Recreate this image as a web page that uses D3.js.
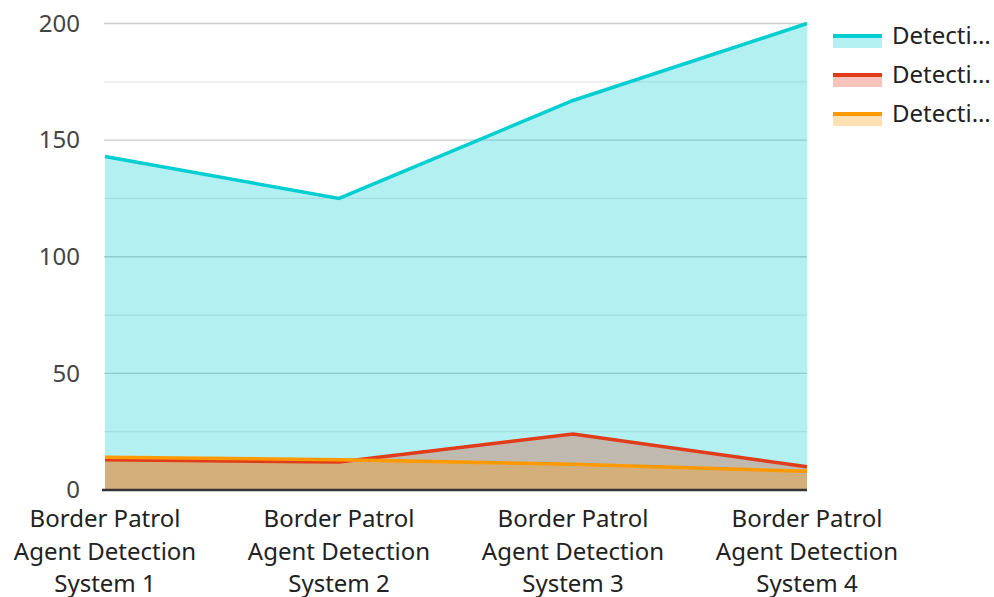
<!DOCTYPE html>
<html>
<head>
<meta charset="utf-8">
<script src="https://cdn.jsdelivr.net/npm/d3@7"></script>
<style>
  body { margin: 0; background: #fff; }
  svg { display: block; font-family: "Noto Sans", "Open Sans", sans-serif; }
</style>
</head>
<body>
<svg id="chart"></svg>
<script>
const width = 994;
const height = 597;

const categories = [
    "Border Patrol Agent Detection System 1",
    "Border Patrol Agent Detection System 2",
    "Border Patrol Agent Detection System 3",
    "Border Patrol Agent Detection System 4",
];
const seriesNames = ["Detecti…", "Detecti…", "Detecti…"];
const seriesColors = ["#00ced1", "#e03c1a", "#ff9900"];
const seriesA = [143, 125, 167, 200];
const seriesB = [13, 12, 24, 10];
const seriesC = [14, 13, 11, 8];
const yTicks = [0, 50, 100, 150, 200];
const yGrid = [25, 50, 75, 100, 125, 150, 175, 200];

const margin = { top: 23.5, right: 187, bottom: 107, left: 105 };
const innerW = width - margin.left - margin.right;
const innerH = height - margin.top - margin.bottom;

const svg = d3.select("#chart").attr("width", width).attr("height", height);
const g = svg.append("g").attr("transform", `translate(${margin.left},${margin.top})`);

const x = d3.scalePoint().domain(categories).range([0, innerW]);
const y = d3.scaleLinear().domain([0, 200]).range([innerH, 0]);

// gridlines
g.append("g")
    .selectAll("line")
    .data(yGrid)
    .enter()
    .append("line")
    .attr("x1", -1)
    .attr("x2", innerW)
    .attr("y1", (d) => y(d))
    .attr("y2", (d) => y(d))
    .attr("stroke", (d) => (d % 50 === 0 ? "#cccccc" : "#e6e6e6"))
    .attr("stroke-width", 1.3);

// areas + lines
const series = [seriesA, seriesB, seriesC];
const area = d3.area()
    .x((d, i) => x(categories[i]))
    .y0(y(0))
    .y1((d) => y(d));
const line = d3.line()
    .x((d, i) => x(categories[i]))
    .y((d) => y(d));

series.forEach((vals, i) => {
    g.append("path")
        .datum(vals)
        .attr("d", area)
        .attr("fill", seriesColors[i])
        .attr("fill-opacity", 0.3);
});
series.forEach((vals, i) => {
    g.append("path")
        .datum(vals)
        .attr("d", line)
        .attr("fill", "none")
        .attr("stroke", seriesColors[i])
        .attr("stroke-width", 3.5);
});

// y axis labels
const yAxis = g.append("g")
    .call(d3.axisLeft(y).tickValues(yTicks).tickSize(0).tickPadding(25));
yAxis.select(".domain").remove();
yAxis.selectAll("text")
    .attr("font-size", 24)
    .attr("fill", "#444")
    .attr("font-family", "Noto Sans, Open Sans, sans-serif");

// x axis
const xAxis = g.append("g")
    .attr("transform", `translate(0,${innerH})`)
    .call(d3.axisBottom(x).tickSize(0).tickFormat(""));
xAxis.select(".domain").attr("stroke", "#333").attr("stroke-width", 2.5)
    .attr("d", `M-3,0H${innerW}`);

const labelG = g.append("g").attr("transform", `translate(0,${innerH})`);
categories.forEach((c) => {
    const lines = ["Border Patrol", "Agent Detection", c.replace("Border Patrol Agent Detection ", "")];
    const t = labelG.append("text")
        .attr("x", x(c))
        .attr("y", 37)
        .attr("text-anchor", "middle")
        .attr("font-size", 24)
        .attr("fill", "#222");
    lines.forEach((l, k) => {
        t.append("tspan")
            .attr("x", x(c))
            .attr("dy", k === 0 ? 0 : 32.5)
            .text(l);
    });
});

// legend
const legend = svg.append("g").attr("transform", "translate(833,36)");
seriesNames.forEach((name, i) => {
    const item = legend.append("g").attr("transform", `translate(0,${i * 39})`);
    item.append("rect")
        .attr("x", 0).attr("y", 0)
        .attr("width", 49).attr("height", 12)
        .attr("fill", seriesColors[i]).attr("fill-opacity", 0.3);
    item.append("rect")
        .attr("x", 0).attr("y", -2)
        .attr("width", 49).attr("height", 4)
        .attr("fill", seriesColors[i]);
    item.append("text")
        .attr("x", 59)
        .attr("y", 8)
        .attr("font-size", 24)
        .attr("fill", "#222")
        .text(name);
});
</script>
</body>
</html>
